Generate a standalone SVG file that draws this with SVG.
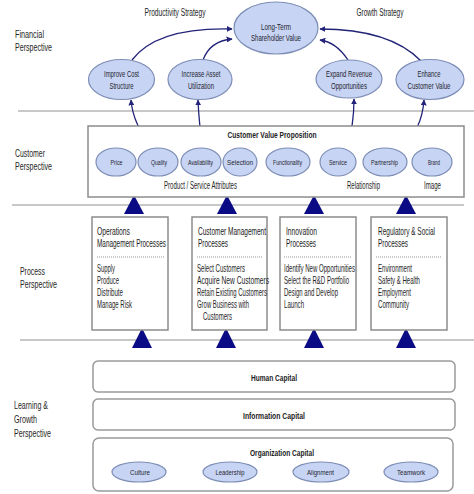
<svg xmlns="http://www.w3.org/2000/svg" width="474" height="494" viewBox="0 0 474 494">
<style>
text{font-family:"Liberation Sans",Arial,sans-serif;fill:#262626;}
.s{font-size:10px;}
.e{font-size:9.5px;fill:#1f1f2e;}
.es{font-size:8px;fill:#1f1f2e;}
.p{font-size:10px;}
.pt{font-size:10px;fill:#1a1a1a;}
.b{font-size:9.5px;font-weight:bold;fill:#222;}
.m{text-anchor:middle;}
.ell{fill:#c7d4f4;stroke:#7d8db5;stroke-width:1.2;}
.box{fill:#fff;stroke:#8c8c8c;stroke-width:1.5;}
.rbox{fill:#fff;stroke:#9a9a9a;stroke-width:1.5;}
.sep{stroke:#c8c8c8;stroke-width:2;}
.dot{stroke:#999;stroke-width:1;stroke-dasharray:1 1;}
.tri{fill:#0b0b85;}
.conn{fill:none;stroke:#23237a;stroke-width:1.3;}
</style>
<defs>
<marker id="ah" viewBox="0 0 10 10" refX="9" refY="5" markerWidth="6" markerHeight="6" markerUnits="userSpaceOnUse" orient="auto">
<path d="M0,0 L10,5 L0,10 z" fill="#23237a"/>
</marker>
</defs>
<rect width="474" height="494" fill="#fff"/>

<g id="separators">
<line class="sep" x1="18" y1="111" x2="474" y2="111"/>
<line class="sep" x1="12" y1="205" x2="464" y2="205"/>
<line class="sep" x1="20" y1="340" x2="474" y2="340"/>
</g>

<g id="perspective-labels">
<text class="s" x="15" y="38" textLength="29" lengthAdjust="spacingAndGlyphs">Financial</text>
<text class="s" x="15" y="51" textLength="37" lengthAdjust="spacingAndGlyphs">Perspective</text>
<text class="s" x="15" y="157" textLength="30" lengthAdjust="spacingAndGlyphs">Customer</text>
<text class="s" x="15" y="170" textLength="37" lengthAdjust="spacingAndGlyphs">Perspective</text>
<text class="s" x="20" y="275" textLength="25" lengthAdjust="spacingAndGlyphs">Process</text>
<text class="s" x="20" y="288" textLength="37" lengthAdjust="spacingAndGlyphs">Perspective</text>
<text class="s" x="14" y="409" textLength="34" lengthAdjust="spacingAndGlyphs">Learning &amp;</text>
<text class="s" x="14" y="423" textLength="23" lengthAdjust="spacingAndGlyphs">Growth</text>
<text class="s" x="14" y="437" textLength="37" lengthAdjust="spacingAndGlyphs">Perspective</text>
</g>

<g id="strategy-labels">
<text class="s m" x="175" y="16" textLength="61" lengthAdjust="spacingAndGlyphs">Productivity Strategy</text>
<text class="s m" x="380" y="16" textLength="47" lengthAdjust="spacingAndGlyphs">Growth Strategy</text>
</g>

<g id="connectors">
<path class="conn" d="M132,60 Q157,27 232,29" marker-end="url(#ah)"/>
<path class="conn" d="M203,60 Q210,41 232,39" marker-end="url(#ah)"/>
<path class="conn" d="M348,60 Q336,42 320,40" marker-end="url(#ah)"/>
<path class="conn" d="M421,61 Q390,29 320,29" marker-end="url(#ah)"/>
<path class="conn" d="M153,148 Q133,125 131,100" marker-end="url(#ah)"/>
<path class="conn" d="M203,148 Q199,125 198,100" marker-end="url(#ah)"/>
<path class="conn" d="M347,148 Q354,125 354,99" marker-end="url(#ah)"/>
<path class="conn" d="M400,151 Q422,130 424,100" marker-end="url(#ah)"/>
<line class="conn" x1="178" y1="162" x2="181" y2="162"/>
<polygon class="tri" points="134,195 124,214 144,214"/>
<polygon class="tri" points="227,195 217,214 237,214"/>
<polygon class="tri" points="314,195 304,214 324,214"/>
<polygon class="tri" points="406,195 396,214 416,214"/>
<polygon class="tri" points="142,328 132,348 152,348"/>
<polygon class="tri" points="226,328 216,348 236,348"/>
<polygon class="tri" points="314,328 304,348 324,348"/>
<polygon class="tri" points="406,328 396,348 416,348"/>
</g>

<g id="n-long-term">
<ellipse class="ell" cx="276" cy="28" rx="42" ry="26"/>
<text class="e m" x="276" y="30" textLength="30" lengthAdjust="spacingAndGlyphs">Long-Term</text>
<text class="e m" x="276" y="41" textLength="50" lengthAdjust="spacingAndGlyphs">Shareholder Value</text>
</g>
<g id="n-improve-cost">
<ellipse class="ell" cx="121.5" cy="79.5" rx="33" ry="20"/>
<text class="e m" x="121.5" y="77" textLength="35" lengthAdjust="spacingAndGlyphs">Improve Cost</text>
<text class="e m" x="121.5" y="89" textLength="24" lengthAdjust="spacingAndGlyphs">Structure</text>
</g>
<g id="n-increase-asset">
<ellipse class="ell" cx="200" cy="79.5" rx="32" ry="20"/>
<text class="e m" x="201" y="77" textLength="39" lengthAdjust="spacingAndGlyphs">Increase Asset</text>
<text class="e m" x="201" y="89" textLength="26" lengthAdjust="spacingAndGlyphs">Utilization</text>
</g>
<g id="n-expand-revenue">
<ellipse class="ell" cx="349" cy="79" rx="33" ry="19"/>
<text class="e m" x="349" y="77" textLength="46" lengthAdjust="spacingAndGlyphs">Expand Revenue</text>
<text class="e m" x="349" y="89" textLength="36" lengthAdjust="spacingAndGlyphs">Opportunities</text>
</g>
<g id="n-enhance-customer">
<ellipse class="ell" cx="430" cy="79.5" rx="34" ry="20"/>
<text class="e m" x="429" y="77" textLength="23" lengthAdjust="spacingAndGlyphs">Enhance</text>
<text class="e m" x="429" y="89" textLength="43" lengthAdjust="spacingAndGlyphs">Customer Value</text>
</g>

<g id="n-customer-value-proposition">
<rect class="box" x="88" y="126" width="376" height="71"/>
<text class="b m" x="272" y="138" textLength="89" lengthAdjust="spacingAndGlyphs">Customer Value Proposition</text>
<text class="p m" x="200.5" y="189" textLength="73" lengthAdjust="spacingAndGlyphs">Product / Service Attributes</text>
<text class="p m" x="363.5" y="189" textLength="33" lengthAdjust="spacingAndGlyphs">Relationship</text>
<text class="p m" x="432.5" y="189" textLength="17" lengthAdjust="spacingAndGlyphs">Image</text>
</g>
<g id="n-price"><ellipse class="ell" cx="116" cy="162" rx="20" ry="14"/><text class="es m" x="116.5" y="165" textLength="12" lengthAdjust="spacingAndGlyphs">Price</text></g>
<g id="n-quality"><ellipse class="ell" cx="158" cy="162" rx="20" ry="14"/><text class="es m" x="159" y="165" textLength="16" lengthAdjust="spacingAndGlyphs">Quality</text></g>
<g id="n-availability"><ellipse class="ell" cx="201" cy="162" rx="20" ry="14"/><text class="es m" x="200.5" y="165" textLength="25" lengthAdjust="spacingAndGlyphs">Availability</text></g>
<g id="n-selection"><ellipse class="ell" cx="240" cy="162" rx="17" ry="14"/><text class="es m" x="240" y="165" textLength="26" lengthAdjust="spacingAndGlyphs">Selection</text></g>
<g id="n-functionality"><ellipse class="ell" cx="288" cy="162" rx="22" ry="14"/><text class="es m" x="287.5" y="165" textLength="29" lengthAdjust="spacingAndGlyphs">Functionality</text></g>
<g id="n-service"><ellipse class="ell" cx="338" cy="162" rx="18" ry="14"/><text class="es m" x="338" y="165" textLength="18" lengthAdjust="spacingAndGlyphs">Service</text></g>
<g id="n-partnership"><ellipse class="ell" cx="385" cy="162" rx="22" ry="14"/><text class="es m" x="384.5" y="165" textLength="27" lengthAdjust="spacingAndGlyphs">Partnership</text></g>
<g id="n-brand"><ellipse class="ell" cx="432" cy="162" rx="20" ry="14"/><text class="es m" x="434" y="165" textLength="12" lengthAdjust="spacingAndGlyphs">Brand</text></g>

<g id="n-operations">
<rect class="box" x="92" y="217" width="76" height="113"/>
<line class="dot" x1="97" y1="257" x2="164" y2="257"/>
<g transform="translate(97 0) scale(0.62 1)">
<text class="pt" x="0" y="235" textLength="53.2" lengthAdjust="spacingAndGlyphs">Operations</text>
<text class="pt" x="0" y="247" textLength="111.3" lengthAdjust="spacingAndGlyphs">Management Processes</text>
<text class="p" x="0" y="272" textLength="29" lengthAdjust="spacingAndGlyphs">Supply</text>
<text class="p" x="0" y="284" textLength="35.5" lengthAdjust="spacingAndGlyphs">Produce</text>
<text class="p" x="0" y="296" textLength="41.9" lengthAdjust="spacingAndGlyphs">Distribute</text>
<text class="p" x="0" y="308" textLength="56.5" lengthAdjust="spacingAndGlyphs">Manage Risk</text>
</g>
</g>
<g id="n-customer-management">
<rect class="box" x="192" y="217" width="75" height="113"/>
<line class="dot" x1="197" y1="257" x2="263" y2="257"/>
<g transform="translate(198 0) scale(0.62 1)">
<text class="pt" x="0" y="235" textLength="109.7" lengthAdjust="spacingAndGlyphs">Customer Management</text>
<text class="pt" x="0" y="247" textLength="48.4" lengthAdjust="spacingAndGlyphs">Processes</text>
<text class="p" x="-1.6" y="272" textLength="77.4" lengthAdjust="spacingAndGlyphs">Select Customers</text>
<text class="p" x="-1.6" y="284" textLength="116.1" lengthAdjust="spacingAndGlyphs">Acquire New Customers</text>
<text class="p" x="-1.6" y="296" textLength="112.9" lengthAdjust="spacingAndGlyphs">Retain Existing Customers</text>
<text class="p" x="-1.6" y="308" textLength="83.9" lengthAdjust="spacingAndGlyphs">Grow Business with</text>
<text class="p" x="8.1" y="320.5" textLength="46.8" lengthAdjust="spacingAndGlyphs">Customers</text>
</g>
</g>
<g id="n-innovation">
<rect class="box" x="280" y="217" width="76" height="113"/>
<line class="dot" x1="284" y1="257" x2="351" y2="257"/>
<g transform="translate(286 0) scale(0.62 1)">
<text class="pt" x="0" y="235" textLength="50" lengthAdjust="spacingAndGlyphs">Innovation</text>
<text class="pt" x="0" y="247" textLength="48.4" lengthAdjust="spacingAndGlyphs">Processes</text>
<text class="p" x="-3.2" y="272" textLength="114.5" lengthAdjust="spacingAndGlyphs">Identify New Opportunities</text>
<text class="p" x="-3.2" y="284" textLength="104.8" lengthAdjust="spacingAndGlyphs">Select the R&amp;D Portfolio</text>
<text class="p" x="-3.2" y="296" textLength="87.1" lengthAdjust="spacingAndGlyphs">Design and Develop</text>
<text class="p" x="-3.2" y="308" textLength="32.3" lengthAdjust="spacingAndGlyphs">Launch</text>
</g>
</g>
<g id="n-regulatory">
<rect class="box" x="371" y="217" width="76" height="113"/>
<line class="dot" x1="376" y1="257" x2="442" y2="257"/>
<g transform="translate(378 0) scale(0.62 1)">
<text class="pt" x="0" y="235" textLength="91.9" lengthAdjust="spacingAndGlyphs">Regulatory &amp; Social</text>
<text class="pt" x="0" y="247" textLength="48.4" lengthAdjust="spacingAndGlyphs">Processes</text>
<text class="p" x="0" y="272" textLength="54.8" lengthAdjust="spacingAndGlyphs">Environment</text>
<text class="p" x="0" y="284" textLength="67.7" lengthAdjust="spacingAndGlyphs">Safety &amp; Health</text>
<text class="p" x="0" y="296" textLength="53.2" lengthAdjust="spacingAndGlyphs">Employment</text>
<text class="p" x="0" y="308" textLength="50" lengthAdjust="spacingAndGlyphs">Community</text>
</g>
</g>

<g id="n-human-capital">
<rect class="rbox" x="93" y="361" width="362" height="31" rx="5"/>
<text class="b m" x="274" y="381" textLength="46" lengthAdjust="spacingAndGlyphs">Human Capital</text>
</g>
<g id="n-information-capital">
<rect class="rbox" x="93" y="399" width="362" height="31" rx="5"/>
<text class="b m" x="274" y="419" textLength="62" lengthAdjust="spacingAndGlyphs">Information Capital</text>
</g>
<g id="n-organization-capital">
<rect class="rbox" x="93" y="438" width="360" height="53" rx="6"/>
<text class="b m" x="282" y="456" textLength="64" lengthAdjust="spacingAndGlyphs">Organization Capital</text>
</g>
<g id="n-culture"><ellipse class="ell" cx="139" cy="472" rx="27" ry="10"/><text class="es m" x="140" y="475" textLength="20" lengthAdjust="spacingAndGlyphs">Culture</text></g>
<g id="n-leadership"><ellipse class="ell" cx="230" cy="472" rx="27" ry="10"/><text class="es m" x="230" y="475" textLength="29" lengthAdjust="spacingAndGlyphs">Leadership</text></g>
<g id="n-alignment"><ellipse class="ell" cx="321" cy="472" rx="28" ry="10"/><text class="es m" x="320.5" y="475" textLength="27" lengthAdjust="spacingAndGlyphs">Alignment</text></g>
<g id="n-teamwork"><ellipse class="ell" cx="411" cy="472" rx="27" ry="10"/><text class="es m" x="411" y="475" textLength="28" lengthAdjust="spacingAndGlyphs">Teamwork</text></g>
</svg>
